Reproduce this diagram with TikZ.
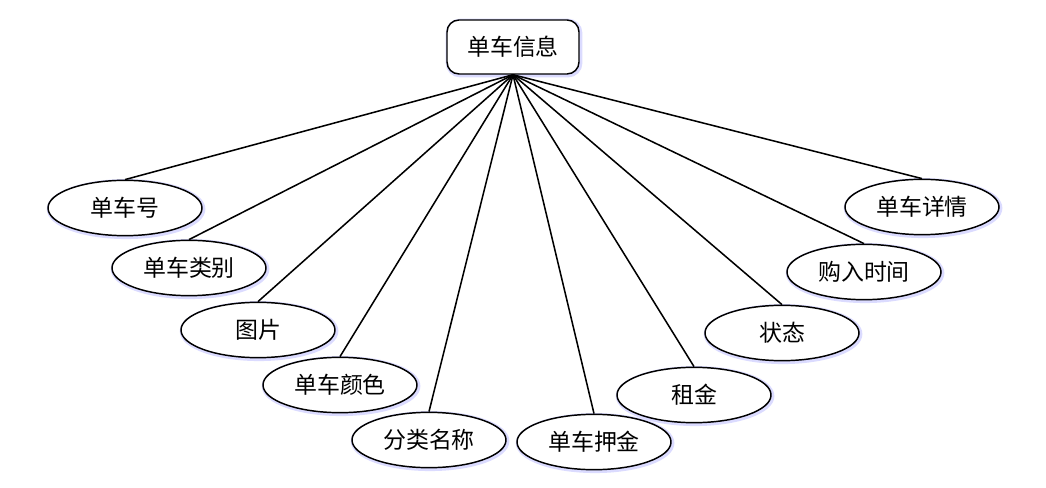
\documentclass[tikz,border=0pt]{standalone}
\usepackage{fontspec}
\setmainfont{Noto Sans CJK SC}
\usetikzlibrary{shapes.geometric}
\begin{document}
\begin{tikzpicture}[x=0.75pt,y=-0.75pt,
  glow/.style={preaction={draw=blue!14,line width=3.5pt,transform canvas={shift={(0.8pt,-0.8pt)}}}},
  attr/.style={ellipse,draw,line width=1.1pt,fill=white,glow,minimum width=115.5pt,minimum height=41.5pt,inner sep=0pt,font=\fontsize{17.2}{20}\selectfont},
  entity/.style={rectangle,rounded corners=9pt,draw,line width=1.1pt,fill=white,glow,minimum width=99pt,minimum height=40.5pt,inner sep=0pt,font=\fontsize{17.2}{20}\selectfont},
  link/.style={line width=1.15pt}]
\useasboundingbox (0,0) rectangle (1046,488);
\node[entity] (top) at (513,47) {单车信息};
\node[attr] (a1) at (125,208) {单车号};
\node[attr] (a2) at (189,268) {单车类别};
\node[attr] (a3) at (258,330) {图片};
\node[attr] (a4) at (340,385) {单车颜色};
\node[attr] (a5) at (429,440) {分类名称};
\node[attr] (a6) at (594,442) {单车押金};
\node[attr] (a7) at (694,395) {租金};
\node[attr] (a8) at (782,333) {状态};
\node[attr] (a9) at (864,272) {购入时间};
\node[attr] (a10) at (922,207) {单车详情};
\foreach \n in {a1,a2,a3,a4,a5,a6,a7,a8,a9,a10}
  \draw[link] (top.south) -- (\n.north);
\end{tikzpicture}
\end{document}
